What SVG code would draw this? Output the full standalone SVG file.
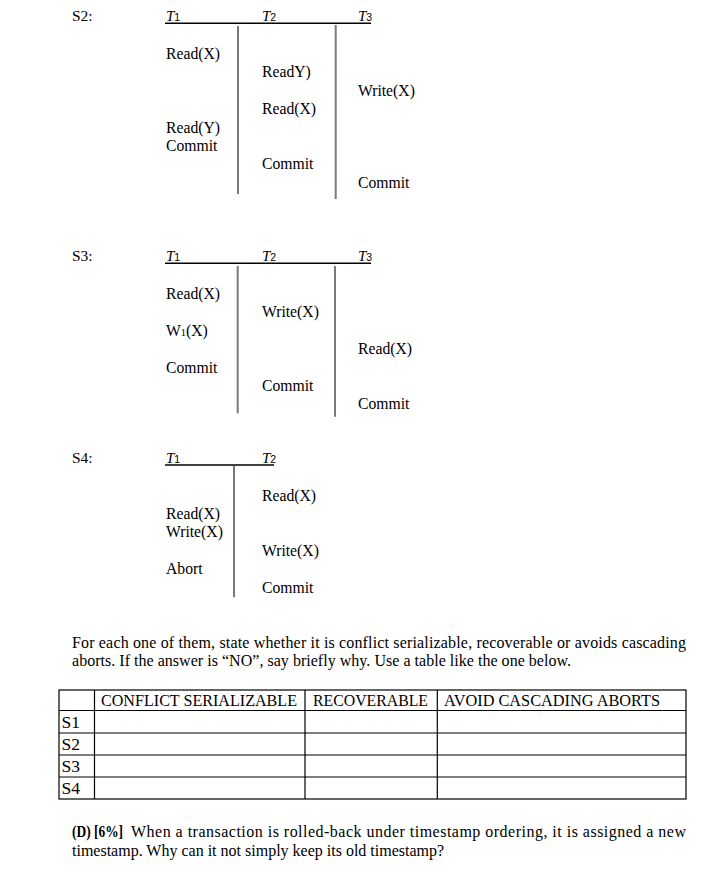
<svg xmlns="http://www.w3.org/2000/svg" width="727" height="878" viewBox="0 0 727 878">
<style>
text{font-family:"Liberation Serif","Times New Roman",serif;fill:#000}
.op{font-size:15.7px}
.lbl{font-size:15.5px}
.t{font-size:15px;font-style:italic}
.sub{font-family:"Liberation Sans",Arial,sans-serif;font-size:10.5px;font-style:normal}
.hl{stroke:#000;stroke-width:1.4}
.vl{stroke:#7a7a7a;stroke-width:2}
.tb{stroke:#000;stroke-width:1.2;fill:none}
.para{font-size:16px}
.th{font-size:16px}
.rl{font-size:17.5px}
</style>
<rect width="727" height="878" fill="#fff"/>

<g id="S2">
<text class="lbl" x="72" y="21">S2:</text>
<text class="t" x="166" y="21">T<tspan class="sub">1</tspan></text>
<text class="t" x="262" y="21">T<tspan class="sub">2</tspan></text>
<text class="t" x="358" y="21">T<tspan class="sub">3</tspan></text>
<line class="hl" x1="165" y1="23.3" x2="371" y2="23.3"/>
<line class="vl" x1="238" y1="26" x2="238" y2="194"/>
<line class="vl" x1="335.7" y1="25" x2="335.7" y2="199"/>
<text class="op" x="166" y="59.3">Read(X)</text>
<text class="op" x="262" y="77.3">ReadY)</text>
<text class="op" x="358" y="96">Write(X)</text>
<text class="op" x="262" y="114.3">Read(X)</text>
<text class="op" x="166" y="132.7">Read(Y)</text>
<text class="op" x="166" y="151">Commit</text>
<text class="op" x="262" y="169.3">Commit</text>
<text class="op" x="358" y="188.3">Commit</text>
</g>

<g id="S3">
<text class="lbl" x="72" y="261">S3:</text>
<text class="t" x="166" y="261">T<tspan class="sub">1</tspan></text>
<text class="t" x="262" y="261">T<tspan class="sub">2</tspan></text>
<text class="t" x="358" y="261">T<tspan class="sub">3</tspan></text>
<line class="hl" x1="165" y1="263.3" x2="371" y2="263.3"/>
<line class="vl" x1="237.7" y1="266" x2="237.7" y2="413.3"/>
<line class="vl" x1="335" y1="266" x2="335" y2="416.7"/>
<text class="op" x="166" y="299.3">Read(X)</text>
<text class="op" x="262" y="317.3">Write(X)</text>
<text class="op" x="166" y="336">W<tspan font-size="10.5px">1</tspan>(X)</text>
<text class="op" x="358" y="354.3">Read(X)</text>
<text class="op" x="166" y="372.7">Commit</text>
<text class="op" x="262" y="391">Commit</text>
<text class="op" x="358" y="409.3">Commit</text>
</g>

<g id="S4">
<text class="lbl" x="72" y="463.3">S4:</text>
<text class="t" x="166" y="463.3">T<tspan class="sub">1</tspan></text>
<text class="t" x="262" y="463.3">T<tspan class="sub">2</tspan></text>
<line class="hl" x1="165" y1="465" x2="274" y2="465"/>
<line class="vl" x1="234" y1="466" x2="234" y2="597.3"/>
<text class="op" x="262" y="501">Read(X)</text>
<text class="op" x="166" y="519">Read(X)</text>
<text class="op" x="166" y="537.3">Write(X)</text>
<text class="op" x="262" y="555.7">Write(X)</text>
<text class="op" x="166" y="574">Abort</text>
<text class="op" x="262" y="592.7">Commit</text>
</g>

<g id="instructions">
<text class="para" x="72" y="648" textLength="614" lengthAdjust="spacing">For each one of them, state whether it is conflict serializable, recoverable or avoids cascading</text>
<text class="para" x="72" y="666" textLength="499" lengthAdjust="spacing">aborts. If the answer is “NO”, say briefly why. Use a table like the one below.</text>
</g>

<g id="table">
<rect class="tb" x="59" y="690" width="627" height="109"/>
<line class="tb" x1="59" y1="710.5" x2="686" y2="710.5"/>
<line class="tb" x1="59" y1="733" x2="686" y2="733"/>
<line class="tb" x1="59" y1="755" x2="686" y2="755"/>
<line class="tb" x1="59" y1="777" x2="686" y2="777"/>
<line class="tb" x1="94.5" y1="690" x2="94.5" y2="799"/>
<line class="tb" x1="305" y1="690" x2="305" y2="799"/>
<line class="tb" x1="437.3" y1="690" x2="437.3" y2="799"/>
<text class="th" x="101" y="706" textLength="196" lengthAdjust="spacingAndGlyphs">CONFLICT SERIALIZABLE</text>
<text class="th" x="313" y="706" textLength="115" lengthAdjust="spacingAndGlyphs">RECOVERABLE</text>
<text class="th" x="444" y="706" textLength="216" lengthAdjust="spacingAndGlyphs">AVOID CASCADING ABORTS</text>
<text class="rl" x="61.5" y="728">S1</text>
<text class="rl" x="61.5" y="750">S2</text>
<text class="rl" x="61.5" y="772">S3</text>
<text class="rl" x="61.5" y="794">S4</text>
</g>

<g id="questionD">
<text class="para" x="72" y="837" font-weight="bold" textLength="51" lengthAdjust="spacingAndGlyphs">(D) [6%]</text>
<text class="para" x="131" y="837" textLength="555" lengthAdjust="spacing">When a transaction is rolled-back under timestamp ordering, it is assigned a new</text>
<text class="para" x="72" y="856">timestamp. Why can it not simply keep its old timestamp?</text>
</g>
</svg>
